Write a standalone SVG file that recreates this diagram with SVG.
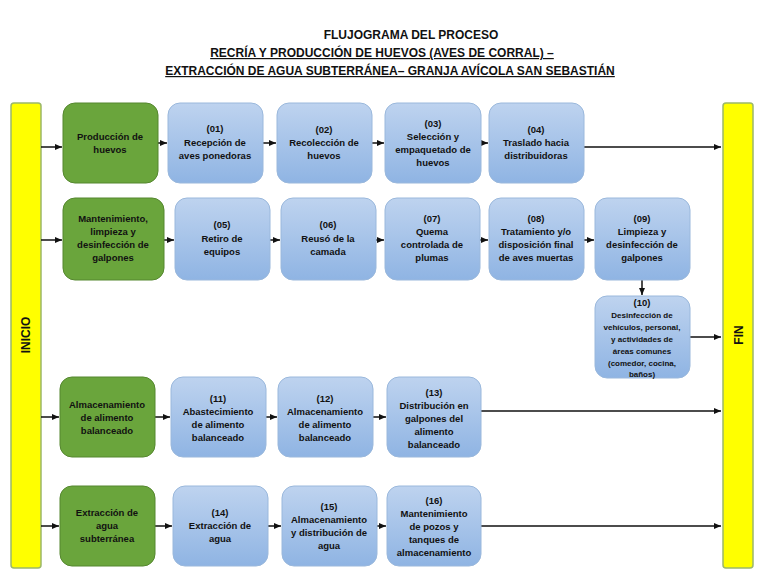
<svg xmlns="http://www.w3.org/2000/svg" width="768" height="576" viewBox="0 0 768 576">
<style>
text{font-family:"Liberation Sans",Arial,sans-serif;font-weight:bold;fill:#111}
.t{font-size:12px}
.n{font-size:9.5px}
.s{font-size:8px}
.g{fill:#6aa53c;stroke:#55872f;stroke-width:1}
.b{fill:url(#bg);stroke:#9ab8dc;stroke-width:1}
.bar{fill:#ffff00;stroke:#9cb86a;stroke-width:1.5}
.c line{stroke:#111;stroke-width:1.5;marker-end:url(#a)}
</style>
<defs>
<linearGradient id="bg" x1="0" y1="0" x2="0" y2="1"><stop offset="0" stop-color="#bed3ef"/><stop offset="1" stop-color="#8fb4e3"/></linearGradient>
<marker id="a" markerWidth="8" markerHeight="8" refX="7" refY="4" orient="auto" markerUnits="userSpaceOnUse"><path d="M0,1 L7,4 L0,7 z" fill="#111"/></marker>
</defs>
<rect width="768" height="576" fill="#fff"/>
<g id="title" text-anchor="middle">
<text x="411" y="39" class="t">FLUJOGRAMA DEL PROCESO</text>
<text x="382" y="57" class="t" text-decoration="underline">RECRÍA Y PRODUCCIÓN DE HUEVOS  (AVES DE CORRAL) –</text>
<text x="390" y="75" class="t" text-decoration="underline">EXTRACCIÓN  DE AGUA SUBTERRÁNEA– GRANJA AVÍCOLA SAN SEBASTIÁN</text>
</g>
<g id="inicio"><rect class="bar" x="11" y="103" width="30" height="465" rx="3"/><text x="30" y="335" class="t" text-anchor="middle" transform="rotate(-90 30 335)">INICIO</text></g>
<g id="fin"><rect class="bar" x="723" y="103" width="30" height="465" rx="3"/><text x="743" y="335" class="t" text-anchor="middle" transform="rotate(-90 743 335)">FIN</text></g>
<g class="c" id="connectors">
<line x1="41" y1="147" x2="62" y2="147"/><line x1="41" y1="240" x2="62" y2="240"/><line x1="41" y1="417" x2="59" y2="417"/><line x1="41" y1="526" x2="59" y2="526"/>
<line x1="158" y1="143" x2="167" y2="143"/><line x1="263" y1="143" x2="276" y2="143"/><line x1="372" y1="143" x2="384" y2="143"/><line x1="481" y1="143" x2="488" y2="143"/><line x1="584" y1="147" x2="721" y2="147"/>
<line x1="164" y1="240" x2="174" y2="240"/><line x1="270" y1="240" x2="280" y2="240"/><line x1="376" y1="240" x2="384" y2="240"/><line x1="480" y1="240" x2="488" y2="240"/><line x1="584" y1="240" x2="594" y2="240"/>
<line x1="642" y1="280" x2="642" y2="295"/><line x1="690" y1="337" x2="721" y2="337"/>
<line x1="155" y1="417" x2="170" y2="417"/><line x1="266" y1="417" x2="277" y2="417"/><line x1="373" y1="417" x2="386" y2="417"/><line x1="481" y1="411" x2="721" y2="411"/>
<line x1="155" y1="526" x2="172" y2="526"/><line x1="268" y1="526" x2="281" y2="526"/><line x1="377" y1="526" x2="386" y2="526"/><line x1="481" y1="526" x2="721" y2="526"/>
</g>
<g text-anchor="middle">
<g id="g1"><rect class="g" x="63" y="103" width="95" height="80" rx="12"/><text class="n" x="110" y="140">Producción de</text><text class="n" x="110" y="153">huevos</text></g>
<g id="n01"><rect class="b" x="168" y="103" width="95" height="80" rx="12"/><text class="n" x="215" y="132">(01)</text><text class="n" x="215" y="146">Recepción de</text><text class="n" x="215" y="159">aves ponedoras</text></g>
<g id="n02"><rect class="b" x="277" y="103" width="95" height="80" rx="12"/><text class="n" x="324" y="133">(02)</text><text class="n" x="324" y="146">Recolección de</text><text class="n" x="324" y="159">huevos</text></g>
<g id="n03"><rect class="b" x="385" y="103" width="96" height="80" rx="12"/><text class="n" x="433" y="127">(03)</text><text class="n" x="433" y="140">Selección y</text><text class="n" x="433" y="153">empaquetado de</text><text class="n" x="433" y="166">huevos</text></g>
<g id="n04"><rect class="b" x="489" y="103" width="95" height="80" rx="12"/><text class="n" x="536" y="133">(04)</text><text class="n" x="536" y="146">Traslado hacia</text><text class="n" x="536" y="159">distribuidoras</text></g>
<g id="g2"><rect class="g" x="63" y="198" width="101" height="82" rx="12"/><text class="n" x="113" y="222">Mantenimiento,</text><text class="n" x="113" y="235">limpieza y</text><text class="n" x="113" y="248">desinfección de</text><text class="n" x="113" y="261">galpones</text></g>
<g id="n05"><rect class="b" x="175" y="198" width="95" height="82" rx="12"/><text class="n" x="222" y="228">(05)</text><text class="n" x="222" y="242">Retiro de</text><text class="n" x="222" y="255">equipos</text></g>
<g id="n06"><rect class="b" x="281" y="198" width="95" height="82" rx="12"/><text class="n" x="328" y="228">(06)</text><text class="n" x="328" y="242">Reusó de la</text><text class="n" x="328" y="255">camada</text></g>
<g id="n07"><rect class="b" x="385" y="198" width="95" height="82" rx="12"/><text class="n" x="432" y="222">(07)</text><text class="n" x="432" y="235">Quema</text><text class="n" x="432" y="248">controlada de</text><text class="n" x="432" y="261">plumas</text></g>
<g id="n08"><rect class="b" x="489" y="198" width="95" height="82" rx="12"/><text class="n" x="536" y="222">(08)</text><text class="n" x="536" y="235">Tratamiento y/o</text><text class="n" x="536" y="248">disposición final</text><text class="n" x="536" y="261">de aves muertas</text></g>
<g id="n09"><rect class="b" x="595" y="198" width="95" height="82" rx="12"/><text class="n" x="642" y="222">(09)</text><text class="n" x="642" y="235">Limpieza y</text><text class="n" x="642" y="248">desinfección de</text><text class="n" x="642" y="261">galpones</text></g>
<g id="n10"><rect class="b" x="595" y="296" width="95" height="82" rx="12"/><text class="n" x="642" y="306">(10)</text><text class="s" x="642" y="318">Desinfección de</text><text class="s" x="642" y="330">vehículos, personal,</text><text class="s" x="642" y="342">y actividades de</text><text class="s" x="642" y="354">áreas comunes</text><text class="s" x="642" y="366">(comedor, cocina,</text><text class="s" x="642" y="377">baños)</text></g>
<g id="g3"><rect class="g" x="60" y="377" width="95" height="80" rx="12"/><text class="n" x="107" y="408">Almacenamiento</text><text class="n" x="107" y="421">de alimento</text><text class="n" x="107" y="434">balanceado</text></g>
<g id="n11"><rect class="b" x="171" y="377" width="95" height="80" rx="12"/><text class="n" x="218" y="402">(11)</text><text class="n" x="218" y="415">Abastecimiento</text><text class="n" x="218" y="428">de alimento</text><text class="n" x="218" y="441">balanceado</text></g>
<g id="n12"><rect class="b" x="278" y="377" width="95" height="80" rx="12"/><text class="n" x="325" y="402">(12)</text><text class="n" x="325" y="415">Almacenamiento</text><text class="n" x="325" y="428">de alimento</text><text class="n" x="325" y="441">balanceado</text></g>
<g id="n13"><rect class="b" x="387" y="377" width="94" height="80" rx="12"/><text class="n" x="434" y="396">(13)</text><text class="n" x="434" y="409">Distribución en</text><text class="n" x="434" y="422">galpones del</text><text class="n" x="434" y="435">alimento</text><text class="n" x="434" y="448">balanceado</text></g>
<g id="g4"><rect class="g" x="60" y="486" width="95" height="80" rx="12"/><text class="n" x="107" y="516">Extracción de</text><text class="n" x="107" y="529">agua</text><text class="n" x="107" y="542">subterránea</text></g>
<g id="n14"><rect class="b" x="173" y="486" width="95" height="80" rx="12"/><text class="n" x="220" y="516">(14)</text><text class="n" x="220" y="529">Extracción de</text><text class="n" x="220" y="542">agua</text></g>
<g id="n15"><rect class="b" x="282" y="486" width="95" height="80" rx="12"/><text class="n" x="329" y="510">(15)</text><text class="n" x="329" y="523">Almacenamiento</text><text class="n" x="329" y="536">y distribución de</text><text class="n" x="329" y="549">agua</text></g>
<g id="n16"><rect class="b" x="387" y="486" width="94" height="80" rx="12"/><text class="n" x="434" y="504">(16)</text><text class="n" x="434" y="517">Mantenimiento</text><text class="n" x="434" y="530">de pozos y</text><text class="n" x="434" y="543">tanques de</text><text class="n" x="434" y="556">almacenamiento</text></g>
</g>
</svg>
